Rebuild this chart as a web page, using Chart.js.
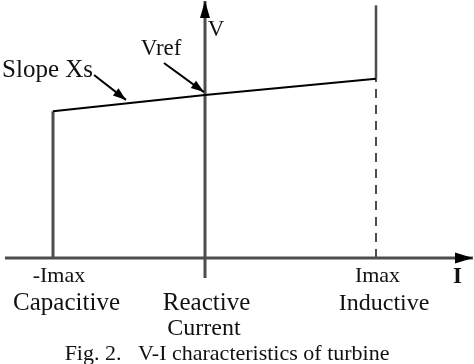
<!DOCTYPE html>
<html><head><meta charset="utf-8">
<script src="https://cdn.jsdelivr.net/npm/chart.js@4"></script>
<style>html,body{margin:0;padding:0;background:#fff;}canvas{display:block}</style>
</head><body>
<canvas id="c" width="474" height="364"></canvas>
<script>
// ---- data (reactive current I in units of Imax(cap), voltage V in units of Vref) ----
const currentMarks = [-1, 0, 1.125];          // -Imax, 0 (reactive current axis), Imax
const voltageAtMarks = [0.90, 1.00, 1.10];    // V at -Imax, Vref, V at Imax
const limitTopVoltage = 1.55;                 // top of inductive limit line
const axisIRange = [-1.316, 1.763];           // horizontal (I) axis extent
const axisVRange = [-0.123, 1.577];           // vertical (V) axis extent
const tickLabels = ["-Imax", "Reactive", "Imax"];
const tickSubLabels = ["Capacitive", "Current", "Inductive"];
const axisNames = ["I", "V"];
const pointerLabels = ["Slope Xs", "Vref"];
const caption = "Fig. 2.   V-I characteristics of turbine";

const GRAY = '#4d4d4d', BLACK = '#000';

const datasets = [
  { label:'I axis', data:[{x:axisIRange[0],y:0},{x:axisIRange[1],y:0}], borderColor:GRAY, borderWidth:3, arrowHead:{len:18,half:5.5,color:BLACK}, order:5 },
  { label:'V axis', data:[{x:0,y:axisVRange[0]},{x:0,y:axisVRange[1]}], borderColor:GRAY, borderWidth:3, arrowHead:{len:17,half:5,color:BLACK}, order:5 },
  { label:'Capacitive limit', data:[{x:currentMarks[0],y:0},{x:currentMarks[0],y:voltageAtMarks[0]}], borderColor:GRAY, borderWidth:3, order:3 },
  { label:'Slope', data:[{x:currentMarks[0],y:voltageAtMarks[0]},{x:currentMarks[1],y:voltageAtMarks[1]},{x:currentMarks[2],y:voltageAtMarks[2]}], borderColor:BLACK, borderWidth:2, order:1 },
  { label:'Inductive limit', data:[{x:currentMarks[2],y:voltageAtMarks[2]},{x:currentMarks[2],y:limitTopVoltage}], borderColor:GRAY, borderWidth:2.5, order:3 },
  { label:'Imax marker', data:[{x:currentMarks[2],y:0},{x:currentMarks[2],y:voltageAtMarks[2]}], borderColor:GRAY, borderWidth:2, borderDash:[9,7], order:4 },
  { label:'Slope pointer', data:[{x:-0.730,y:1.123},{x:-0.520,y:0.970}], borderColor:BLACK, borderWidth:2, arrowHead:{len:13,half:4.5,color:BLACK}, order:0 },
  { label:'Vref pointer', data:[{x:-0.270,y:1.196},{x:-0.007,y:1.018}], borderColor:BLACK, borderWidth:2, arrowHead:{len:13,half:4.5,color:BLACK}, order:0 }
].map(d => Object.assign({ showLine:true, pointRadius:0, fill:false, tension:0 }, d));

// text placements (data coordinates, centered, baseline)
const texts = [
  { t: pointerLabels[0], x:-1.036, y:1.110, size:25 },
  { t: pointerLabels[1], x:-0.289, y:1.245, size:23 },
  { t: axisNames[1],     x: 0.072, y:1.362, size:23 },
  { t: tickLabels[0],    x:-0.961, y:-0.147, size:22 },
  { t: tickSubLabels[0], x:-0.911, y:-0.319, size:25 },
  { t: tickLabels[1],    x: 0.010, y:-0.319, size:25 },
  { t: tickSubLabels[1], x:-0.007, y:-0.472, size:24 },
  { t: tickLabels[2],    x: 1.135, y:-0.147, size:22 },
  { t: tickSubLabels[2], x: 1.178, y:-0.319, size:24 },
  { t: axisNames[0],     x: 1.661, y:-0.153, size:23, bold:true },
  { t: caption,          x: 0.145, y:-0.626, size:22 }
];

function drawHead(ctx, ax, ay, bx, by, len, half, color){
  const ang = Math.atan2(by-ay, bx-ax);
  ctx.save();
  ctx.translate(bx, by); ctx.rotate(ang);
  ctx.beginPath();
  ctx.moveTo(0,0); ctx.lineTo(-len, -half); ctx.lineTo(-len, half); ctx.closePath();
  ctx.fillStyle = color; ctx.fill();
  ctx.restore();
}

const annot = {
  id:'annot',
  afterDatasetsDraw(chart){
    const ctx = chart.ctx, xs = chart.scales.x, ys = chart.scales.y;
    chart.data.datasets.forEach((ds,i)=>{
      if(!ds.arrowHead) return;
      const pts = chart.getDatasetMeta(i).data;
      const a = pts[pts.length-2], b = pts[pts.length-1];
      drawHead(ctx, a.x, a.y, b.x, b.y, ds.arrowHead.len, ds.arrowHead.half, ds.arrowHead.color);
    });
    ctx.save();
    ctx.fillStyle = '#111';
    ctx.textAlign = 'center';
    ctx.textBaseline = 'alphabetic';
    texts.forEach(o=>{
      ctx.font = (o.bold?'bold ':'') + o.size + 'px "Liberation Serif", "DejaVu Serif", serif';
      ctx.fillText(o.t, xs.getPixelForValue(o.x), ys.getPixelForValue(o.y));
    });
    ctx.restore();
  }
};

new Chart(document.getElementById('c'), {
  type:'scatter',
  data:{ datasets },
  options:{
    responsive:false, animation:false, devicePixelRatio:1,
    layout:{ padding:0 },
    plugins:{ legend:{display:false}, tooltip:{enabled:false}, title:{display:false} },
    scales:{
      x:{ type:'linear', display:false, min:-205/152, max:269/152 },
      y:{ type:'linear', display:false, min:-106/163, max:258/163 }
    },
    elements:{ line:{ borderCapStyle:'butt' } }
  },
  plugins:[annot]
});
</script>
</body></html>
